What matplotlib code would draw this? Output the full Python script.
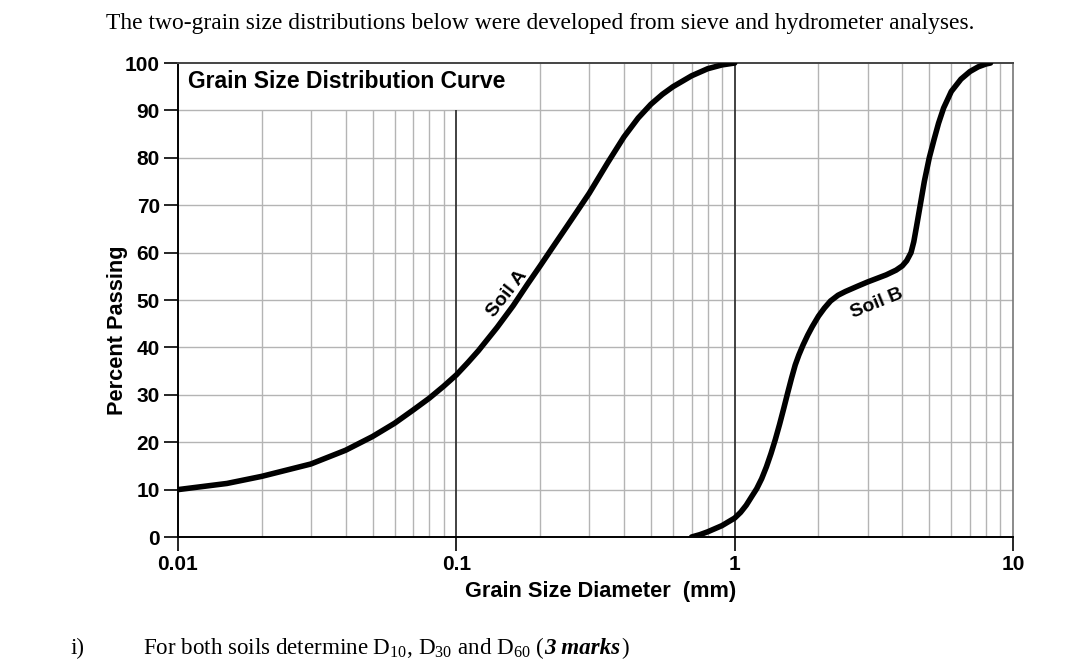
import matplotlib.pyplot as plt
from matplotlib.ticker import NullLocator
from matplotlib.offsetbox import TextArea, HPacker, AnchoredOffsetbox
import numpy as np

plt.rcParams['font.family'] = ['Liberation Sans', 'DejaVu Sans']
plt.rcParams['mathtext.fontset'] = 'custom'
plt.rcParams['mathtext.rm'] = 'Liberation Serif'

# values (grain size in mm, percent passing)
soil_a_size = [0.01, 0.015, 0.02, 0.03, 0.04, 0.05, 0.06, 0.07, 0.08, 0.09, 0.1,
               0.11, 0.12, 0.14, 0.16, 0.18, 0.2, 0.22, 0.25, 0.275, 0.3, 0.35,
               0.4, 0.45, 0.5, 0.55, 0.6, 0.7, 0.8, 0.9, 1.0]
soil_a_pct = [10, 11.3, 12.8, 15.4, 18.3, 21.2, 24.0, 26.8, 29.3, 31.8, 34.2,
              36.8, 39.3, 44.2, 48.8, 53.3, 57.2, 60.8, 65.6, 69.2, 72.5, 79.0,
              84.4, 88.4, 91.3, 93.4, 95.0, 97.3, 98.8, 99.6, 100]

soil_b_size = [0.7, 0.75, 0.8, 0.9, 1.0, 1.05, 1.1, 1.15, 1.2, 1.25, 1.3, 1.35,
               1.4, 1.45, 1.5, 1.55, 1.6, 1.65, 1.7, 1.76, 1.83, 1.9, 2.0, 2.1,
               2.21, 2.35, 2.5, 2.76, 3.0, 3.5, 3.8, 4.0, 4.15, 4.3, 4.4, 4.5,
               4.64, 4.8, 5.0, 5.21, 5.4, 5.63, 6.0, 6.5, 7.0, 7.5, 8.0, 8.3]
soil_b_pct = [0, 0.5, 1.1, 2.4, 4.0, 5.2, 6.7, 8.5, 10.2, 12.3, 14.8, 17.6,
              20.6, 23.8, 27.1, 30.4, 33.5, 36.3, 38.4, 40.5, 42.6, 44.4, 46.6, 48.3,
              49.8, 51.0, 51.8, 52.9, 53.8, 55.3, 56.3, 57.2, 58.3, 60.0, 62.3, 65.5,
              70, 75, 80, 84, 87.3, 90.5, 94.0, 96.6, 98.2, 99.2, 99.8, 100]

x_ticks = [0.01, 0.1, 1, 10]
x_tick_labels = ['0.01', '0.1', '1', '10']
y_ticks = [0, 10, 20, 30, 40, 50, 60, 70, 80, 90, 100]

fig = plt.figure(figsize=(10.9, 6.69), dpi=100)
ax = fig.add_axes([0.1633, 0.1973, 0.7661, 0.7085])
ax.set_xscale('log')
ax.set_xlim(0.01, 10)
ax.set_ylim(0, 100)

# grid: the title box hides the lines above 90 on the left part
grid_color = '#b4b4b4'
for dec in [0.01, 0.1, 1]:
  for m in range(2, 10):
    gx = dec * m
    top = 90 if gx < 0.15 else 100
    ax.vlines(gx, 0, top, color=grid_color, lw=1.0, zorder=1)
ax.vlines(0.1, 0, 90, color='#333333', lw=1.3, zorder=2)
ax.vlines(1, 0, 100, color='#333333', lw=1.3, zorder=2)
for gy in y_ticks[1:-1]:
  ax.hlines(gy, 0.01, 10, color=grid_color, lw=1.0, zorder=1)

ax.plot(soil_a_size, soil_a_pct, color='black', lw=4, solid_capstyle='round',
        solid_joinstyle='round', zorder=3)
ax.plot(soil_b_size, soil_b_pct, color='black', lw=4, solid_capstyle='round',
        solid_joinstyle='round', zorder=3)

ax.text(0.152, 51.4, 'Soil A', rotation=52, ha='center', va='center',
        fontsize=14, fontweight='bold')
ax.text(3.24, 49.2, 'Soil B', rotation=22, ha='center', va='center',
        fontsize=14, fontweight='bold')
ax.text(0.012, 0.962, 'Grain Size Distribution Curve', transform=ax.transAxes,
        ha='left', va='center', fontsize=16.5, fontweight='bold')

ax.set_xticks(x_ticks)
ax.set_xticklabels(x_tick_labels)
ax.xaxis.set_minor_locator(NullLocator())
ax.set_yticks(y_ticks)
ax.tick_params(axis='both', direction='out', length=10, width=1.2, pad=3,
               labelsize=15, colors='black')
for lab in ax.get_xticklabels() + ax.get_yticklabels():
  lab.set_fontweight('bold')

ax.spines['left'].set_linewidth(1.4)
ax.spines['bottom'].set_linewidth(1.4)
ax.spines['top'].set_color('#444444')
ax.spines['top'].set_linewidth(1.4)
ax.spines['right'].set_color('#777777')
ax.spines['right'].set_linewidth(1.2)

fig.text(601 / 1090, 1 - 591 / 669, 'Grain Size Diameter  (mm)', ha='center', va='center',
         fontsize=15.7, fontweight='bold')
fig.text(118 / 1090, 1 - 330 / 669, 'Percent Passing', ha='center', va='center',
         rotation=90, fontsize=15.7, fontweight='bold')

fig.text(540 / 1090, 1 - 23 / 669,
         'The two-grain size distributions below were developed from sieve and hydrometer analyses.',
         ha='center', va='center', fontsize=16.9, family='Liberation Serif')

fig.text(70 / 1090, 1 - 648 / 669, 'i)', ha='left', va='center', fontsize=16.6,
         family='Liberation Serif')
serif = dict(fontsize=16.6, family='Liberation Serif')
parts = [TextArea(r'For both soils determine D$_{10}$, D$_{30}$ and D$_{60}$ (', textprops=serif),
         TextArea('3 marks', textprops=dict(fontsize=16.6, family='Liberation Serif',
                                            fontweight='bold', style='italic')),
         TextArea(')', textprops=serif)]
box = HPacker(children=parts, align='baseline', pad=0, sep=0)
anchored = AnchoredOffsetbox(loc='center left', child=box, pad=0, borderpad=0, frameon=False,
                             bbox_to_anchor=(143 / 1090, 1 - 648 / 669),
                             bbox_transform=fig.transFigure)
ax.add_artist(anchored)

fig.savefig('out.png', dpi=100)
